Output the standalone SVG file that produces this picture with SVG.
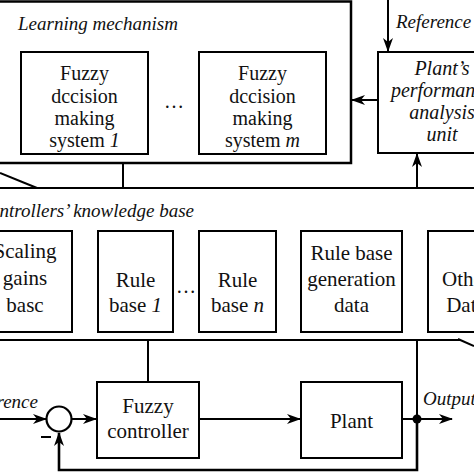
<svg xmlns="http://www.w3.org/2000/svg" width="474" height="474" viewBox="0 0 474 474">
<style>
.box{fill:#fff;stroke:#000;stroke-width:2}
.ln{fill:none;stroke:#000;stroke-width:2}
.t{font-family:"Liberation Serif","Times New Roman",serif;font-size:20px;fill:#111;text-anchor:middle}
.it{font-style:italic}
</style>
<defs>
<marker id="ah" viewBox="0 0 14 10" refX="13" refY="5" markerWidth="14" markerHeight="10" markerUnits="userSpaceOnUse" orient="auto">
<path d="M0,0 L14,5 L0,10 L4,5 z" fill="#000"/>
</marker>
</defs>
<rect width="474" height="474" fill="#fff"/>

<g id="connectors">
<line class="ln" x1="388" y1="0" x2="388" y2="51" marker-end="url(#ah)"/>
<line class="ln" x1="378" y1="100" x2="352" y2="100" marker-end="url(#ah)"/>
<line class="ln" x1="0" y1="188" x2="474" y2="188"/>
<line class="ln" x1="123" y1="163" x2="123" y2="188"/>
<line class="ln" x1="417" y1="188" x2="417" y2="154" marker-end="url(#ah)"/>
<line class="ln" x1="0" y1="173" x2="37" y2="188"/>
<line class="ln" x1="0" y1="340" x2="460" y2="340"/>
<line class="ln" x1="458" y1="339" x2="474" y2="346"/>
<line class="ln" x1="148" y1="340" x2="148" y2="382"/>
<line class="ln" x1="417" y1="340" x2="417" y2="419"/>
<line class="ln" x1="0" y1="419" x2="46" y2="419" marker-end="url(#ah)"/>
<line class="ln" x1="72" y1="419" x2="96" y2="419" marker-end="url(#ah)"/>
<line class="ln" x1="199" y1="419" x2="300" y2="419" marker-end="url(#ah)"/>
<line class="ln" x1="402" y1="419" x2="452" y2="419" marker-end="url(#ah)"/>
<polyline class="ln" style="stroke-width:2.6" points="417,419 417,470 59,470 59,433" marker-end="url(#ah)"/>
<circle cx="417" cy="419" r="4.5" fill="#000"/>
</g>

<g id="learning-mechanism">
<rect class="box" x="-5" y="1.5" width="356" height="161.5" style="stroke-width:2.5"/>
<text class="t it" x="18" y="30" style="text-anchor:start;font-size:19px">Learning mechanism</text>
</g>
<g id="fdms1">
<rect class="box" x="21" y="52" width="127" height="102"/>
<text class="t" x="84.5" y="80">Fuzzy</text>
<text class="t" x="84.5" y="103">dccision</text>
<text class="t" x="84.5" y="125">making</text>
<text class="t" x="84.5" y="147">system <tspan class="it">1</tspan></text>
</g>
<text class="t" x="174" y="108">…</text>
<g id="fdmsm">
<rect class="box" x="199" y="52" width="127" height="102"/>
<text class="t" x="262.5" y="80">Fuzzy</text>
<text class="t" x="262.5" y="103">dccision</text>
<text class="t" x="262.5" y="125">making</text>
<text class="t" x="262.5" y="147">system <tspan class="it">m</tspan></text>
</g>
<text class="t it" x="396" y="28" style="text-anchor:start;font-size:19px">Reference</text>
<g id="performance-unit">
<rect class="box" x="378" y="52" width="110" height="101"/>
<text class="t it" x="442" y="75">Plant’s</text>
<text class="t it" x="442" y="97">performance</text>
<text class="t it" x="442" y="119">analysis</text>
<text class="t it" x="442" y="141">unit</text>
</g>

<text class="t it" x="194" y="217" style="text-anchor:end;font-size:19px">Controllers’ knowledge base</text>
<g id="scaling-gains">
<rect class="box" x="-22" y="231" width="94" height="101"/>
<text class="t" x="25" y="258" style="font-size:21px">Scaling</text>
<text class="t" x="25" y="285" style="font-size:21px">gains</text>
<text class="t" x="25" y="312" style="font-size:21px">basc</text>
</g>
<g id="rule-base-1">
<rect class="box" x="98" y="231" width="75" height="101"/>
<text class="t" x="135.5" y="287" style="font-size:21px">Rule</text>
<text class="t" x="135.5" y="312" style="font-size:21px">base <tspan class="it">1</tspan></text>
</g>
<text class="t" x="186" y="293">…</text>
<g id="rule-base-n">
<rect class="box" x="199" y="231" width="77" height="101"/>
<text class="t" x="237.5" y="287" style="font-size:21px">Rule</text>
<text class="t" x="237.5" y="312" style="font-size:21px">base <tspan class="it">n</tspan></text>
</g>
<g id="rule-base-generation">
<rect class="box" x="301" y="231" width="101" height="101"/>
<text class="t" x="351.5" y="260" style="font-size:21px">Rule base</text>
<text class="t" x="351.5" y="286" style="font-size:21px">generation</text>
<text class="t" x="351.5" y="312" style="font-size:21px">data</text>
</g>
<g id="other-data">
<rect class="box" x="428" y="231" width="76" height="101"/>
<text class="t" x="466" y="286" style="font-size:21px">Other</text>
<text class="t" x="466" y="312" style="font-size:21px">Data</text>
</g>

<text class="t it" x="38" y="408" style="text-anchor:end;font-size:19px">Reference</text>
<g id="sum">
<circle cx="59" cy="419" r="12.5" fill="#fff" stroke="#000" stroke-width="2.2"/>
<line x1="41" y1="437" x2="51" y2="437" stroke="#000" stroke-width="2"/>
</g>
<g id="fuzzy-controller">
<rect class="box" x="97" y="382" width="102" height="76"/>
<text class="t" x="148" y="413" style="font-size:21px">Fuzzy</text>
<text class="t" x="148" y="438" style="font-size:21px">controller</text>
</g>
<g id="plant">
<rect class="box" x="301" y="382" width="101" height="76"/>
<text class="t" x="351.5" y="428" style="font-size:21px">Plant</text>
</g>
<text class="t it" x="423" y="405" style="text-anchor:start;font-size:19px">Output</text>
</svg>
